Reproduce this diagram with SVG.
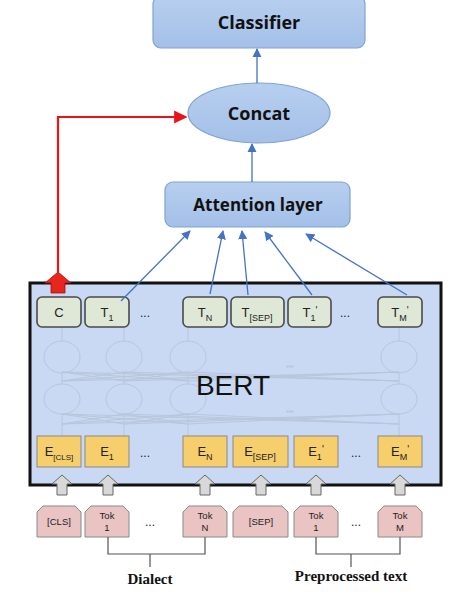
<svg xmlns="http://www.w3.org/2000/svg" width="474" height="612" viewBox="0 0 474 612">
<defs>
<linearGradient id="bg" x1="0" y1="0" x2="0" y2="1"><stop offset="0" stop-color="#b7cfef"/><stop offset="1" stop-color="#a4c0e8"/></linearGradient>
<marker id="ab" viewBox="0 0 10 10" refX="9" refY="5" markerWidth="7" markerHeight="7" orient="auto"><path d="M0,0 L10,5 L0,10 z" fill="#4472c4"/></marker>
<marker id="ar" viewBox="0 0 10 10" refX="9" refY="5" markerWidth="6" markerHeight="6" orient="auto"><path d="M0,0 L10,5 L0,10 z" fill="#e8141a"/></marker>
</defs>
<style>
.top{fill:url(#bg);stroke:#7fa3d6;stroke-width:1.2}
.tl{font-family:"Open Sans","Liberation Sans",sans-serif;font-weight:bold;fill:#111;text-anchor:middle}
.tb{fill:#dfe7d6;stroke:#4a4a4a;stroke-width:1.6}
.eb{fill:#f6ce6c;stroke:#8a8a8a;stroke-width:1}
.kb{fill:#eac3c3;stroke:#8a8a8a;stroke-width:1}
.lb{font-family:"Liberation Sans",Arial,sans-serif;fill:#222;text-anchor:middle}
.ga{fill:#d8d8d8;stroke:#666;stroke-width:1}
.con{stroke:#4472c4;stroke-width:1.3;fill:none}
.net{stroke:#b9c6da;stroke-width:1;fill:none}
.br{stroke:#555;stroke-width:1.2;fill:none}
.sl{font-family:"Liberation Serif","Times New Roman",serif;font-weight:bold;fill:#111;text-anchor:middle;font-size:15px}
</style>
<g id="classifier"><rect class="top" x="153" y="-4" width="212" height="52" rx="8"/><text class="tl" x="259" y="29" font-size="18">Classifier</text></g>
<g id="concat"><ellipse class="top" cx="259" cy="113" rx="71" ry="30"/><text class="tl" x="259" y="120" font-size="18">Concat</text></g>
<g id="attention"><rect class="top" x="165" y="182" width="185" height="45" rx="8"/><text class="tl" x="258" y="211" font-size="17">Attention layer</text></g>
<g id="bert">
<rect x="30" y="283" width="411" height="202" fill="#c9d9f3" stroke="#111" stroke-width="3"/>
<g class="net">
<ellipse cx="62" cy="357" rx="18" ry="16"/><ellipse cx="124" cy="357" rx="18" ry="16"/><ellipse cx="188" cy="357" rx="18" ry="16"/><ellipse cx="399" cy="357" rx="18" ry="16"/>
<ellipse cx="62" cy="399" rx="18" ry="15"/><ellipse cx="124" cy="399" rx="18" ry="15"/><ellipse cx="188" cy="399" rx="18" ry="15"/><ellipse cx="399" cy="399" rx="18" ry="15"/>
<path d="M62,327 V341 M124,327 V341 M188,327 V341 M399,327 V341 M62,373 V384 M124,373 V384 M188,373 V384 M399,373 V384 M62,414 V436 M124,414 V436 M188,414 V436 M399,414 V436"/>
<path d="M62,381 L124,372 M62,381 L188,372 M62,381 L399,372 M124,381 L62,372 M124,381 L188,372 M124,381 L399,372 M188,381 L62,372 M188,381 L124,372 M188,381 L399,372 M399,381 L62,372 M399,381 L124,372 M399,381 L188,372"/>
<path d="M62,424 L124,414 M62,424 L188,414 M62,424 L399,414 M124,424 L62,414 M124,424 L188,414 M124,424 L399,414 M188,424 L62,414 M188,424 L124,414 M188,424 L399,414 M399,424 L62,414 M399,424 L124,414 M399,424 L188,414"/>
<text x="290" y="367" font-family="Liberation Sans,sans-serif" font-size="9" fill="#b9c6da" text-anchor="middle">...</text>
<text x="290" y="412" font-family="Liberation Sans,sans-serif" font-size="9" fill="#b9c6da" text-anchor="middle">...</text>
</g>
<text x="233" y="395" font-family="Liberation Sans,Arial,sans-serif" font-size="28" fill="#111" text-anchor="middle">BERT</text>
</g>
<g id="t-row">
<g id="t-c"><rect class="tb" x="37" y="297" width="44" height="30" rx="5"/><text class="lb" x="59" y="317" font-size="13">C</text></g>
<g id="t-1"><rect class="tb" x="85" y="297" width="44" height="30" rx="5"/><text class="lb" x="107" y="317" font-size="13">T<tspan font-size="9" dy="4">1</tspan></text></g>
<text class="lb" x="145" y="317" font-size="12">...</text>
<g id="t-n"><rect class="tb" x="183" y="297" width="44" height="30" rx="5"/><text class="lb" x="205" y="317" font-size="13">T<tspan font-size="9" dy="4">N</tspan></text></g>
<g id="t-sep"><rect class="tb" x="231" y="297" width="53" height="30" rx="5"/><text class="lb" x="257" y="317" font-size="13">T<tspan font-size="9" dy="4">[SEP]</tspan></text></g>
<g id="t-1p"><rect class="tb" x="288" y="297" width="43" height="30" rx="5"/><text class="lb" x="310" y="317" font-size="13">T<tspan font-size="9" dy="4">1</tspan><tspan font-size="10" dy="-7">'</tspan></text></g>
<text class="lb" x="345" y="317" font-size="12">...</text>
<g id="t-mp"><rect class="tb" x="378" y="297" width="44" height="30" rx="5"/><text class="lb" x="400" y="317" font-size="13">T<tspan font-size="9" dy="4">M</tspan><tspan font-size="10" dy="-7">'</tspan></text></g>
</g>
<g id="e-row">
<g id="e-cls"><rect class="eb" x="37" y="436" width="44" height="31"/><text class="lb" x="59" y="456" font-size="13">E<tspan font-size="8" dy="4">[CLS]</tspan></text></g>
<g id="e-1"><rect class="eb" x="85" y="436" width="44" height="31"/><text class="lb" x="107" y="456" font-size="13">E<tspan font-size="9" dy="4">1</tspan></text></g>
<text class="lb" x="145" y="457" font-size="12">...</text>
<g id="e-n"><rect class="eb" x="183" y="436" width="44" height="31"/><text class="lb" x="205" y="456" font-size="13">E<tspan font-size="9" dy="4">N</tspan></text></g>
<g id="e-sep"><rect class="eb" x="233" y="436" width="55" height="31"/><text class="lb" x="260" y="456" font-size="13">E<tspan font-size="9" dy="4">[SEP]</tspan></text></g>
<g id="e-1p"><rect class="eb" x="294" y="436" width="44" height="31"/><text class="lb" x="316" y="456" font-size="13">E<tspan font-size="9" dy="4">1</tspan><tspan font-size="10" dy="-7">'</tspan></text></g>
<text class="lb" x="356" y="457" font-size="12">...</text>
<g id="e-mp"><rect class="eb" x="378" y="436" width="44" height="31"/><text class="lb" x="400" y="456" font-size="13">E<tspan font-size="9" dy="4">M</tspan><tspan font-size="10" dy="-7">'</tspan></text></g>
</g>
<g id="input-arrows">
<path class="ga" d="M62,475 L72,484 L67,484 L67,495 L57,495 L57,484 L52,484 Z"/>
<path class="ga" d="M108,475 L118,484 L113,484 L113,495 L103,495 L103,484 L98,484 Z"/>
<path class="ga" d="M205,475 L215,484 L210,484 L210,495 L200,495 L200,484 L195,484 Z"/>
<path class="ga" d="M261,475 L271,484 L266,484 L266,495 L256,495 L256,484 L251,484 Z"/>
<path class="ga" d="M316,475 L326,484 L321,484 L321,495 L311,495 L311,484 L306,484 Z"/>
<path class="ga" d="M400,475 L410,484 L405,484 L405,495 L395,495 L395,484 L390,484 Z"/>
</g>
<g id="tokens">
<g id="tok-cls"><path class="kb" d="M43,506 H75 L81,512 V537 H37 V512 Z"/><text class="lb" x="59" y="525" font-size="9.5">[CLS]</text></g>
<g id="tok-1"><path class="kb" d="M91,506 H123 L129,512 V537 H85 V512 Z"/><text class="lb" x="107" y="519" font-size="9.5">Tok</text><text class="lb" x="107" y="531" font-size="9.5">1</text></g>
<text class="lb" x="150" y="526" font-size="12">...</text>
<g id="tok-n"><path class="kb" d="M189,506 H221 L227,512 V537 H183 V512 Z"/><text class="lb" x="205" y="519" font-size="9.5">Tok</text><text class="lb" x="205" y="531" font-size="9.5">N</text></g>
<g id="tok-sep"><path class="kb" d="M239,506 H282 L288,512 V537 H233 V512 Z"/><text class="lb" x="261" y="525" font-size="9.5">[SEP]</text></g>
<g id="tok-1p"><path class="kb" d="M300,506 H332 L338,512 V537 H294 V512 Z"/><text class="lb" x="316" y="519" font-size="9.5">Tok</text><text class="lb" x="316" y="531" font-size="9.5">1</text></g>
<text class="lb" x="356" y="526" font-size="12">...</text>
<g id="tok-m"><path class="kb" d="M384,506 H416 L422,512 V537 H378 V512 Z"/><text class="lb" x="400" y="519" font-size="9.5">Tok</text><text class="lb" x="400" y="531" font-size="9.5">M</text></g>
</g>
<g id="labels">
<path class="br" d="M108,537 V554 H205 V537 M150,554 V567"/>
<text class="sl" x="150" y="584">Dialect</text>
<path class="br" d="M316,537 V554 H400 V537 M351,554 V567"/>
<text class="sl" x="351" y="581">Preprocessed text</text>
</g>
<g id="connectors">
<line class="con" x1="257" y1="83" x2="257" y2="49" marker-end="url(#ab)"/>
<line class="con" x1="252" y1="182" x2="252" y2="144" marker-end="url(#ab)"/>
<line class="con" x1="121" y1="301" x2="190" y2="231" marker-end="url(#ab)"/>
<line class="con" x1="210" y1="294" x2="223" y2="231" marker-end="url(#ab)"/>
<line class="con" x1="248" y1="295" x2="242" y2="231" marker-end="url(#ab)"/>
<line class="con" x1="312" y1="295" x2="265" y2="232" marker-end="url(#ab)"/>
<line class="con" x1="407" y1="295" x2="306" y2="234" marker-end="url(#ab)"/>
<path d="M58,272 V117 H186" fill="none" stroke="#e8141a" stroke-width="2.2" marker-end="url(#ar)"/>
<path d="M58,272 L71,283 L65,283 L65,293 L51,293 L51,283 L45,283 Z" fill="#e8261e" stroke="#a01010" stroke-width="0.8"/>
</g>
</svg>
